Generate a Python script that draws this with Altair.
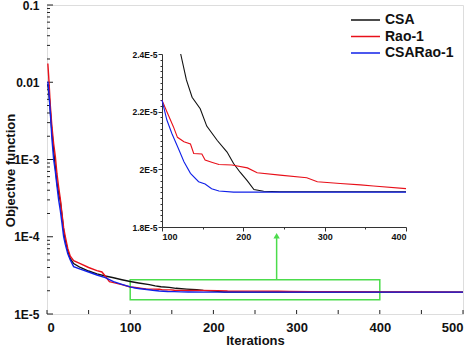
import altair as alt
import pandas as pd

# ---------------- data ----------------
series_names = ["CSA", "Rao-1", "CSARao-1"]
series_colors = ["#111111", "#e8101a", "#1020e8"]

csa_x = [1, 3, 5, 8, 10, 12, 14, 16, 18, 20, 22, 25, 28, 32, 40, 50, 60, 70, 80, 90,
         100, 110, 123, 130, 137, 147, 155, 168, 180, 188, 196, 205, 213, 225, 245, 400, 500]
csa_y = [0.0095, 0.006, 0.003, 0.0013, 0.0008, 0.0005, 0.00036, 0.00029, 0.00019, 0.00012,
         0.00009, 0.000066, 0.000052, 0.000045, 0.000040, 0.000036, 0.000033, 0.000031,
         0.0000295, 0.0000278, 0.0000263, 0.0000252, 0.0000240, 0.0000231, 0.0000225,
         0.0000221, 0.0000215, 0.0000210, 0.0000206, 0.0000202, 0.0000199, 0.0000196,
         0.0000193, 0.00001924, 0.00001922, 0.00001922, 0.00001922]

rao_x = [1, 2, 4, 6, 8, 10, 12, 14, 16, 18, 20, 22, 25, 28, 32, 40, 50, 60, 66, 70, 75,
         80, 90, 100, 106, 114, 119, 127, 135, 139, 149, 153, 162, 170, 186, 205, 217,
         245, 278, 291, 319, 344, 360, 400, 440, 500]
rao_y = [0.0175, 0.012, 0.005, 0.0026, 0.0016, 0.0011, 0.00065, 0.00044, 0.00031, 0.0002,
         0.00013, 0.0001, 0.00007, 0.000056, 0.000049, 0.000045, 0.000040, 0.0000365,
         0.000035, 0.000031, 0.0000262, 0.0000255, 0.0000240, 0.0000224, 0.0000220,
         0.00002148, 0.00002111, 0.00002096, 0.00002088, 0.00002055, 0.00002053,
         0.00002032, 0.00002024, 0.00002017, 0.00002015, 0.00002005, 0.00001988,
         0.0000198, 0.00001971, 0.00001957, 0.00001951, 0.00001946, 0.00001942,
         0.00001933, 0.00001925, 0.00001921]

csarao_x = [1, 2, 4, 6, 8, 10, 12, 14, 16, 18, 20, 22, 25, 28, 32, 40, 50, 60, 70, 80, 90,
            100, 106, 112, 120, 127, 135, 145, 153, 161, 170, 188, 400, 500]
csarao_y = [0.0102, 0.008, 0.004, 0.0018, 0.001, 0.0007, 0.00045, 0.0003, 0.00022,
            0.00015, 0.0001, 0.00008, 0.00006, 0.00005, 0.000041, 0.000038, 0.000035,
            0.000032, 0.0000295, 0.0000262, 0.0000242, 0.0000224, 0.00002171, 0.00002125,
            0.00002073, 0.00002026, 0.00001986, 0.00001957, 0.00001949, 0.00001933,
            0.00001925, 0.00001921, 0.00001921, 0.00001921]

# main axes
x_tick_values = [0, 100, 200, 300, 400, 500]
x_minor_ticks = [0, 50, 100, 150, 200, 250, 300, 350, 400, 450, 500]
y_tick_values = [1e-5, 1e-4, 1e-3, 1e-2, 1e-1]
y_tick_labels = ["1E-5", "1E-4", "1E-3", "0.01", "0.1"]

# inset axes
inset_x_values = [100, 150, 200, 250, 300, 350, 400]
inset_y_major = [1.8e-5, 2.0e-5, 2.2e-5, 2.4e-5]
inset_y_labels = ["1.8E-5", "2E-5", "2.2E-5", "2.4E-5"]

# zoom box and arrow
box_x = [100, 400]
box_y = [1.53e-5, 2.77e-5]
arrow_x = [276]
arrow_y = [2.77e-5, 9.6e-5]
arrow_tip = [1.03e-4]

# ---------------- tables ----------------
rows = []
for name, xs_, ys_ in zip(series_names, [csa_x, rao_x, csarao_x], [csa_y, rao_y, csarao_y]):
    for a, b in zip(xs_, ys_):
        rows.append({"it": a, "val": b, "series": name})
df = pd.DataFrame(rows)

y_minor = [m * v for v in y_tick_values[:-1] for m in range(2, 10)]
inset_y_values = [round(1.8e-5 + i * 0.02e-5, 10) for i in range(31)]

W, H = 416, 309
FONT = "Liberation Sans"
GREEN = "#4cdc4c"

def label_expr(values, labels):
    expr = "''"
    for v, l in zip(values, labels):
        expr = f"abs(datum.value - {v}) < {v * 1e-3} ? '{l}' : " + expr
    return expr

xs = alt.Scale(domain=[0, 500], nice=False, zero=False)
ys = alt.Scale(type="log", domain=[1e-5, 0.1], nice=False)

x_axis = alt.Axis(values=x_tick_values, ticks=False, domain=False, grid=False,
                  labelFontSize=13, labelFontWeight="bold", labelFont=FONT, labelColor="#111",
                  labelPadding=7, title="Iterations", titleFontSize=13, titleFontWeight="bold",
                  titleFont=FONT, titleColor="#111", titleY=26, titleBaseline="middle")
y_axis = alt.Axis(values=y_tick_values, labelExpr=label_expr(y_tick_values, y_tick_labels),
                  ticks=False, domain=False, grid=False, labelFontSize=12,
                  labelFontWeight="bold", labelFont=FONT, labelColor="#111", labelPadding=8,
                  title="Objective function", titleFontSize=13, titleFontWeight="bold",
                  titleFont=FONT, titleColor="#111", titleX=-37, titleY=165,
                  titleBaseline="middle", titleAngle=270)

color = alt.Color("series:N", scale=alt.Scale(domain=series_names, range=series_colors),
                  legend=None)

def main_line(name):
    return alt.Chart(df).transform_filter(alt.datum.series == name).mark_line(
        strokeWidth=1.4).encode(
        x=alt.X("it:Q", scale=xs, axis=x_axis),
        y=alt.Y("val:Q", scale=ys, axis=y_axis),
        color=color, order="it:Q")

ymaj = alt.Chart(pd.DataFrame({"v": y_tick_values})).mark_rule(color="#222").encode(
    y=alt.Y("v:Q", scale=ys, axis=y_axis), x=alt.value(0), x2=alt.value(6))
ymin = alt.Chart(pd.DataFrame({"v": y_minor})).mark_rule(color="#222").encode(
    y=alt.Y("v:Q", scale=ys, axis=y_axis), x=alt.value(0), x2=alt.value(3))
xtk = alt.Chart(pd.DataFrame({"v": x_minor_ticks})).mark_rule(color="#222").encode(
    x=alt.X("v:Q", scale=xs, axis=x_axis), y=alt.value(H), y2=alt.value(H - 4))

box = alt.Chart(pd.DataFrame({"x1": [box_x[0]], "x2": [box_x[1]],
                              "y1": [box_y[0]], "y2": [box_y[1]]})).mark_rect(
    fillOpacity=0, stroke=GREEN, strokeWidth=1.5).encode(
    x=alt.X("x1:Q", scale=xs, axis=x_axis), x2="x2:Q",
    y=alt.Y("y1:Q", scale=ys, axis=y_axis), y2="y2:Q")
arrow = alt.Chart(pd.DataFrame({"x": arrow_x, "y1": [arrow_y[0]], "y2": [arrow_y[1]]})).mark_rule(
    color=GREEN, strokeWidth=1.5).encode(
    x=alt.X("x:Q", scale=xs, axis=x_axis),
    y=alt.Y("y1:Q", scale=ys, axis=y_axis), y2="y2:Q")
tip = alt.Chart(pd.DataFrame({"x": arrow_x, "y": arrow_tip})).mark_point(
    shape="triangle-up", filled=True, color=GREEN, size=40, opacity=1).encode(
    x=alt.X("x:Q", scale=xs, axis=x_axis),
    y=alt.Y("y:Q", scale=ys, axis=y_axis))

main = alt.layer(box, arrow, tip, ymaj, ymin, xtk,
                 *[main_line(n) for n in series_names])

# ---------------- inset ----------------
ixs = alt.Scale(domain=[100, 400], range=[115, 359], nice=False, zero=False)
iys = alt.Scale(domain=[1.8e-5, 2.4e-5], range=[222, 49], nice=False, zero=False)

ix_axis = alt.Axis(orient="bottom", offset=-(H - 222), values=inset_x_values,
                   labelExpr="datum.value % 100 == 0 ? datum.label : ''",
                   tickSize={"condition": {"test": "datum.value % 100 == 0", "value": 4}, "value": 2},
                   tickColor="#333", domainColor="#333", grid=False, title=None,
                   labelFontSize=9, labelFontWeight="bold", labelFont=FONT, labelColor="#111",
                   labelPadding=1)
iy_axis = alt.Axis(orient="left", offset=-115, values=inset_y_values,
                   labelExpr=label_expr(inset_y_major, inset_y_labels),
                   tickSize={"condition": {"test": "abs(datum.value*5e5 - round(datum.value*5e5)) < 0.01",
                                           "value": 4}, "value": 2},
                   tickColor="#333", domainColor="#333", grid=False, title=None,
                   labelFontSize=8.5, labelFontWeight="bold", labelFont=FONT, labelColor="#111",
                   labelPadding=1)

def inset_line(name):
    return alt.Chart(df).transform_filter(
        (alt.datum.series == name) & (alt.datum.it >= 100) & (alt.datum.it <= 400)
        & (alt.datum.val <= 2.4001e-5)).mark_line(strokeWidth=1.1).encode(
        x=alt.X("it:Q", scale=ixs, axis=ix_axis),
        y=alt.Y("val:Q", scale=iys, axis=iy_axis),
        color=color, order="it:Q")

inset = alt.layer(*[inset_line(n) for n in series_names])

# ---------------- legend (key lines + labels) ----------------
leg_df = pd.DataFrame({"series": series_names, "row": list(range(len(series_names)))})
ly = alt.Scale(domain=[0, len(series_names) - 1], range=[15, 48], nice=False, zero=False)
leg_lines = alt.Chart(leg_df).mark_rule(strokeWidth=1.5).encode(
    y=alt.Y("row:Q", scale=ly, axis=None),
    x=alt.value(304), x2=alt.value(333), color=color)
leg_text = alt.Chart(leg_df).mark_text(
    align="left", baseline="middle", fontSize=14, fontWeight="bold", font=FONT,
    color="#111").encode(
    y=alt.Y("row:Q", scale=ly, axis=None), x=alt.value(338), text="series:N")
legend = alt.layer(leg_lines, leg_text)

chart = alt.layer(main, inset, legend).resolve_scale(
    x="independent", y="independent").properties(
    width=W, height=H,
    autosize=alt.AutoSizeParams(type="none"),
    padding={"left": 47, "top": 5, "right": 11, "bottom": 34},
).configure_view(stroke="#222", strokeWidth=1.5).configure(background="white")

chart.save("out.html", embed_options={"renderer": "svg", "actions": False})
